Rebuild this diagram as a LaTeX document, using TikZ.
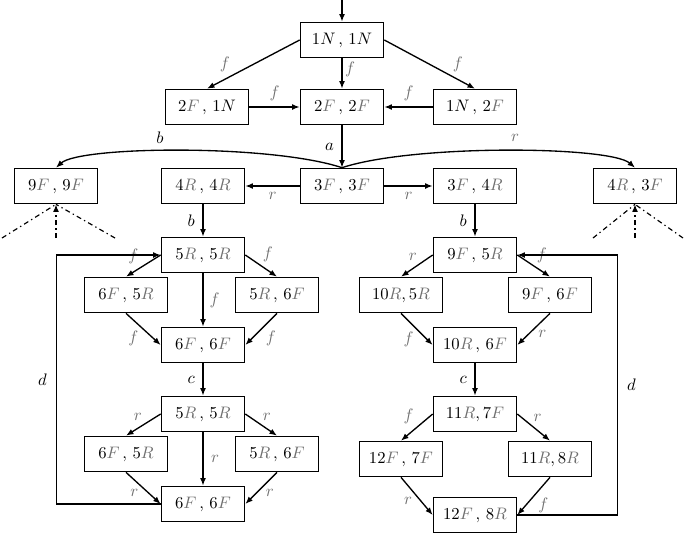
\documentclass[tikz,border=0pt]{standalone}
\usepackage{amsmath,amssymb}
\usepackage{xcolor}
\usetikzlibrary{arrows.meta, positioning, calc}
\definecolor{LabelGray}{HTML}{6F6F6F}
\newcommand{\Fg}{\textcolor{LabelGray}{F}}
\newcommand{\Rg}{\textcolor{LabelGray}{R}}
\newcommand{\fl}{\textcolor{LabelGray}{f}}
\newcommand{\rl}{\textcolor{LabelGray}{r}}

\begin{document}
\begin{tikzpicture}[x=0.6pt, y=-0.6pt,
    statebox/.style={rectangle, draw, line width=1pt, minimum width=49.8pt,
                     minimum height=21pt, inner sep=0pt, font=\normalsize},
    arr/.style={-{Latex[length=4.5pt, width=3.5pt]}, line width=0.8pt},
    lbl/.style={font=\normalsize, inner sep=1.5pt},
    dashdot/.style={dash pattern=on 3pt off 2pt on 0.8pt off 2pt, line width=0.7pt}]
    \useasboundingbox (0,0) rectangle (685,534);

    % Top
    \node[statebox] (n11) at (342,40) {$1N\,,\,1N$};
    \node[statebox] (n21) at (207,107) {$2\Fg\,,\,1N$};
    \node[statebox] (n22) at (342,107) {$2\Fg\,,\,2\Fg$};
    \node[statebox] (n12) at (475,107) {$1N\,,\,2\Fg$};
    \node[statebox] (n99) at (56,186) {$9\Fg\,,\,9\Fg$};
    \node[statebox] (n44) at (203,186) {$4\Rg\,,\,4\Rg$};
    \node[statebox] (n33) at (342,186) {$3\Fg\,,\,3\Fg$};
    \node[statebox] (n34) at (475,186) {$3\Fg\,,\,4\Rg$};
    \node[statebox] (n43) at (635,186) {$4\Rg\,,\,3\Fg$};
    \coordinate (start) at (342,0);

    \draw[arr] (start) -- (n11.north);
    \draw[arr] (n11.west) -- (n21.north) node[lbl, pos=0.72, above left] {$\fl$};
    \draw[arr] (n11.east) -- (n12.north) node[lbl, pos=0.72, above right] {$\fl$};
    \draw[arr] (n11.south) -- (n22.north) node[lbl, pos=0.35, right] {$\fl$};
    \draw[arr] (n21.east) -- (n22.west) node[lbl, midway, above=2pt] {$\fl$};
    \draw[arr] (n12.west) -- (n22.east) node[lbl, midway, above=2pt] {$\fl$};
    \draw[arr] (n22.south) -- (n33.north) node[lbl, midway, left=3pt] {$a$};
    \draw[arr] (n33.north) .. controls (270,144) and (80,146) .. (n99.north);
    \draw[arr] (n33.north) .. controls (414,144) and (610,146) .. (n43.north);
    \node[lbl] (lb) at (160,138) {$b$};
    \node[lbl] (lr) at (515,138) {$\rl$};
    \draw[arr] (n33.west) -- (n44.east) node[lbl, midway, below=2pt] {$\rl$};
    \draw[arr] (n33.east) -- (n34.west) node[lbl, midway, below=2pt] {$\rl$};

    % Open branches
    \coordinate (w1) at (2,238);
    \coordinate (w2) at (56,238);
    \coordinate (w3) at (115,238);
    \coordinate (e1) at (593,238);
    \coordinate (e2) at (635,238);
    \coordinate (e3) at (683,238);
    \draw[dashdot] (w1) -- (n99.south);
    \draw[dashdot] (w3) -- (n99.south);
    \draw[dashdot, arr] (w2) -- (n99.south);
    \draw[dashdot] (e1) -- (n43.south);
    \draw[dashdot] (e3) -- (n43.south);
    \draw[dashdot, arr] (e2) -- (n43.south);

    % Left branch
    \node[statebox] (a55) at (203,255) {$5\Rg\,,\,5\Rg$};
    \node[statebox] (a65) at (126,295) {$6\Fg\,,\,5\Rg$};
    \node[statebox] (a56) at (277,295) {$5\Rg\,,\,6\Fg$};
    \node[statebox] (a66) at (203,345) {$6\Fg\,,\,6\Fg$};
    \node[statebox] (b55) at (203,414) {$5\Rg\,,\,5\Rg$};
    \node[statebox] (b65) at (126,454) {$6\Fg\,,\,5\Rg$};
    \node[statebox] (b56) at (277,454) {$5\Rg\,,\,6\Fg$};
    \node[statebox] (b66) at (203,504) {$6\Fg\,,\,6\Fg$};

    \draw[arr] (n44.south) -- (a55.north) node[lbl, midway, left=3pt] {$b$};
    \draw[arr] (a55.west) -- (a65.north) node[lbl, pos=0.55, above left] {$\fl$};
    \draw[arr] (a55.east) -- (a56.north) node[lbl, pos=0.45, above right] {$\fl$};
    \draw[arr] (a55.south) -- (a66.north) node[lbl, midway, right=2pt] {$\fl$};
    \draw[arr] (a65.south) -- (a66.west) node[lbl, pos=0.45, below left] {$\fl$};
    \draw[arr] (a56.south) -- (a66.east) node[lbl, pos=0.45, below right] {$\fl$};
    \draw[arr] (a66.south) -- (b55.north) node[lbl, midway, left=3pt] {$c$};
    \draw[arr] (b55.west) -- (b65.north) node[lbl, pos=0.45, above left] {$\rl$};
    \draw[arr] (b55.east) -- (b56.north) node[lbl, pos=0.45, above right] {$\rl$};
    \draw[arr] (b55.south) -- (b66.north) node[lbl, midway, right=3pt] {$\rl$};
    \draw[arr] (b65.south) -- (b66.west) node[lbl, pos=0.45, below left] {$\rl$};
    \draw[arr] (b56.south) -- (b66.east) node[lbl, pos=0.45, below right] {$\rl$};
    \draw[arr] (b66.west) -- ++(-104,0) |- (a55.west) node[lbl, pos=0.25, left=4pt] {$d$};

    % Right branch
    \node[statebox] (c95) at (475,255) {$9\Fg\,,\,5\Rg$};
    \node[statebox] (c105) at (401,295) {$10\Rg,5\Rg$};
    \node[statebox] (c96) at (550,295) {$9\Fg\,,\,6\Fg$};
    \node[statebox] (c106) at (475,345) {$10\Rg\,,\,6\Fg$};
    \node[statebox] (c117) at (475,414) {$11\Rg,7\Fg$};
    \node[statebox] (c127) at (401,459) {$12\Fg\,,\,7\Fg$};
    \node[statebox] (c118) at (550,459) {$11\Rg,8\Rg$};
    \node[statebox] (c128) at (475,515) {$12\Fg\,,\,8\Rg$};

    \draw[arr] (n34.south) -- (c95.north) node[lbl, midway, left=3pt] {$b$};
    \draw[arr] (c95.west) -- (c105.north) node[lbl, pos=0.4, above left] {$\rl$};
    \draw[arr] (c95.east) -- (c96.north) node[lbl, pos=0.5, above right] {$\fl$};
    \draw[arr] (c105.south) -- (c106.west) node[lbl, pos=0.5, below left] {$\fl$};
    \draw[arr] (c96.south) -- (c106.east) node[lbl, pos=0.45, below right] {$\rl$};
    \draw[arr] (c106.south) -- (c117.north) node[lbl, midway, left=3pt] {$c$};
    \draw[arr] (c117.west) -- (c127.north) node[lbl, pos=0.5, above left] {$\fl$};
    \draw[arr] (c117.east) -- (c118.north) node[lbl, pos=0.4, above right] {$\rl$};
    \draw[arr] (c127.south) -- (c128.west) node[lbl, pos=0.45, below left] {$\rl$};
    \draw[arr] (c118.south) -- (c128.east) node[lbl, pos=0.45, below right] {$\fl$};
    \draw[arr] (c128.east) -- ++(100,0) |- (c95.east) node[lbl, pos=0.25, right=4pt] {$d$};
\end{tikzpicture}
\end{document}
